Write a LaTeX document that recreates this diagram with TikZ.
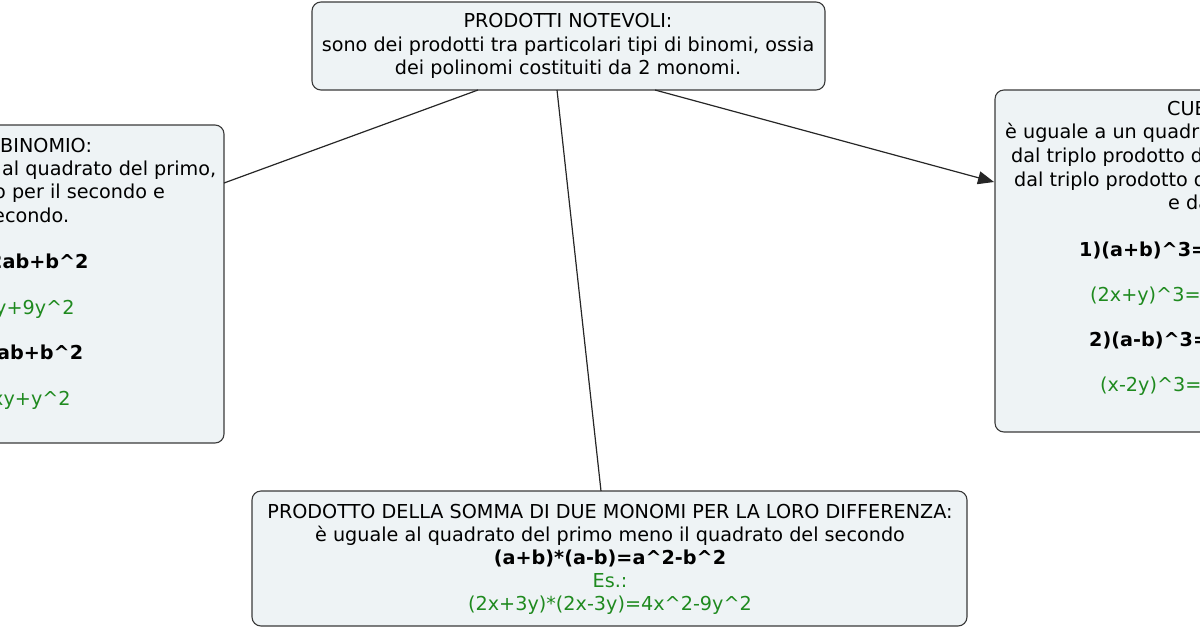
\documentclass[tikz,border=0pt]{standalone}
\usepackage{fontspec}
\setmainfont{DejaVu Sans}
\usetikzlibrary{arrows.meta}
\definecolor{boxfill}{HTML}{EEF3F5}
\definecolor{boxline}{HTML}{3A3A3A}
\definecolor{eg}{HTML}{1F8A1F}
\begin{document}
\begin{tikzpicture}[x=1pt,y=-1pt,
  cbox/.style={draw=boxline,fill=boxfill,rounded corners=9pt,line width=1.1pt},
  t/.style={font=\fontsize{19.2}{22}\selectfont,inner sep=0pt,anchor=base west},
  tc/.style={font=\fontsize{19.2}{22}\selectfont,inner sep=0pt,anchor=base},
  bf/.style={font=\fontsize{19.2}{22}\selectfont\bfseries},
  conn/.style={line width=1.2pt,draw=black!85}]
\useasboundingbox (0,0) rectangle (1200,630);
\clip (0,0) rectangle (1200,630);
% boxes
\draw[cbox] (312,2) rectangle (825,90);
\draw[cbox] (-40,125) rectangle (224,443);
\draw[cbox] (995,90) rectangle (1240,432);
\draw[cbox] (252,491) rectangle (967,626);
\coordinate (topL) at (478,90);
\coordinate (topM) at (557,90);
\coordinate (topR) at (655,90);
\coordinate (leftE) at (224,183);
\coordinate (botN) at (601,491);
\coordinate (rightW) at (994,182);
\draw[conn] (topL) -- (leftE);
\draw[conn] (topM) -- (botN);
\draw[conn,-{Triangle[length=16pt,width=13pt]}] (topR) -- (rightW);
% top text
\node[tc] (a1) at (568,27) {PRODOTTI NOTEVOLI:};
\node[tc] (a2) at (568,51) {sono dei prodotti tra particolari tipi di binomi, ossia};
\node[tc] (a3) at (568,74) {dei polinomi costituiti da 2 monomi.};
% left text
\node[t] (l1) at (0,152) {BINOMIO:};
\node[t] (l2) at (2,175) {al quadrato del primo,};
\node[t] (l3) at (-6,198) {o per il secondo e};
\node[t] (l4) at (-7,222) {econdo.};
\node[t,bf] (l5) at (-11,268) {2ab+b\^{}2};
\node[t,text=eg] (l6) at (-5,314) {y+9y\^{}2};
\node[t,bf] (l7) at (-3,359) {ab+b\^{}2};
\node[t,text=eg] (l8) at (-8,405) {xy+y\^{}2};
% right text
\node[t] (r1) at (1167,115) {CUBO};
\node[t] (r2) at (1005,138) {è uguale a un quadrinomio};
\node[t] (r3) at (1011,162) {dal triplo prodotto del};
\node[t] (r4) at (1014,186) {dal triplo prodotto del};
\node[t] (r5) at (1168,209) {e dal};
\node[t,bf] (r6) at (1079,256) {1)(a+b)\^{}3=};
\node[t,text=eg] (r7) at (1090,301) {(2x+y)\^{}3=};
\node[t,bf] (r8) at (1089,346) {2)(a-b)\^{}3=};
\node[t,text=eg] (r9) at (1100,391) {(x-2y)\^{}3=};
% bottom text
\node[tc] (b1) at (610,518) {PRODOTTO DELLA SOMMA DI DUE MONOMI PER LA LORO DIFFERENZA:};
\node[tc] (b2) at (610,541) {è uguale al quadrato del primo meno il quadrato del secondo};
\node[tc,bf] (b3) at (610,564) {(a+b)*(a-b)=a\^{}2-b\^{}2};
\node[tc,text=eg] (b4) at (610,587) {Es.:};
\node[tc,text=eg] (b5) at (610,610) {(2x+3y)*(2x-3y)=4x\^{}2-9y\^{}2};
\end{tikzpicture}
\end{document}
